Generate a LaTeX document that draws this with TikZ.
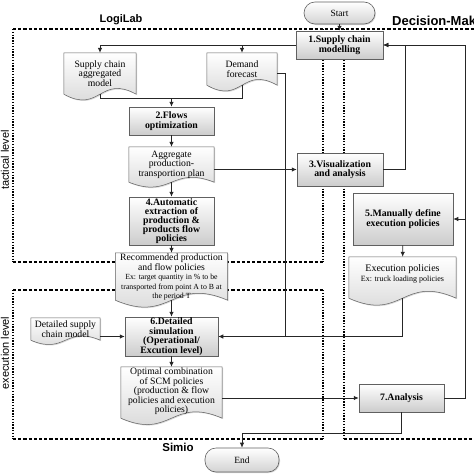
\documentclass[tikz,border=0pt]{standalone}
\usepackage{fontspec}
\setmainfont{Liberation Serif}
\newfontfamily\labfont{Liberation Sans}
\usetikzlibrary{arrows.meta,calc,shadows}
\pgfdeclarelayer{frames}
\pgfdeclarelayer{docs}
\pgfsetlayers{frames,docs,main}
\newcommand\docoutline[2]{\path[docshape] (#1.north west) -- (#1.north east) -- (#1.south east) .. controls ($(#1.south)+(0,-#2)$) and ($(#1.south)+(0,#2)$) .. (#1.south west) -- cycle;}
\newcommand\exfont{\fontsize{7.8}{8.2}\selectfont}
\tikzset{
  boxnode/.style={rectangle, draw=gray!75!black, line width=0.5pt, top color=white, bottom color=gray!40,
    drop shadow={shadow xshift=1.2pt,shadow yshift=-1.2pt,opacity=0.3},
    inner sep=1pt, align=center, font=\fontsize{9.8}{9.6}\selectfont\bfseries},
  termnode/.style={rectangle, rounded corners=11pt, draw=gray!75!black, line width=0.6pt, top color=white, bottom color=gray!35,
    drop shadow={shadow xshift=1pt,shadow yshift=-1pt,opacity=0.3},
    inner sep=1pt, font=\fontsize{9.5}{9.5}\selectfont},
  docnode/.style={rectangle, inner sep=0pt, align=center, font=\fontsize{9.7}{9.5}\selectfont},
  docshape/.style={draw=gray!75!black, line width=0.5pt, top color=white, bottom color=gray!35,
    drop shadow={shadow xshift=1pt,shadow yshift=-1pt,opacity=0.3}},
  link/.style={draw=black!85, line width=0.8pt},
  arr/.style={link, -{Latex[length=5pt,width=4.5pt]}},
  hdash/.style={line width=1.6pt, dash pattern=on 3.2pt off 2pt},
  vdot/.style={line width=1.6pt, dash pattern=on 1.4pt off 1.4pt},
  lab/.style={font=\labfont\bfseries\fontsize{11}{11}\selectfont, inner sep=0pt},
  sidelab/.style={font=\labfont\fontsize{11}{11}\selectfont, inner sep=0pt, rotate=90},
}
\begin{document}
\begin{tikzpicture}[x=1pt,y=-1pt]
\useasboundingbox (0,0) rectangle (474,474);

% labels
\node[lab] (logilab) at (121,20) {LogiLab};
\node[lab, anchor=west, font=\labfont\bfseries\fontsize{13}{13}\selectfont] (dm) at (392,22) {Decision-Making};
\node[lab, font=\labfont\bfseries\fontsize{11.5}{11.5}\selectfont] (simio) at (178,447) {Simio};
\node[sidelab] (tact) at (5,160) {tactical level};
\node[sidelab] (exec) at (5,353) {execution level};

% terminals and boxes
\node[termnode, minimum width=71pt, minimum height=22pt] (start) at (339.5,13) {Start};
\node[termnode, minimum width=74pt, minimum height=24pt] (end) at (242,460) {End};
\node[boxnode, minimum width=87pt, minimum height=28pt] (b1) at (339.5,45) {1.Supply chain\\modelling};
\node[boxnode, minimum width=85pt, minimum height=28pt] (b2) at (171.5,121) {2.Flows\\optimization};
\node[boxnode, minimum width=86pt, minimum height=33pt] (b3) at (340,169.5) {3.Visualization\\and analysis};
\node[boxnode, minimum width=85pt, minimum height=48pt, font=\fontsize{9.8}{9.1}\selectfont\bfseries, inner sep=0pt] (b4) at (171.5,221) {4.Automatic\\extraction of\\production \&\\products flow\\policies};
\node[boxnode, minimum width=100pt, minimum height=52pt] (b5) at (403,219) {5.Manually define\\execution policies};
\node[boxnode, minimum width=93pt, minimum height=39pt, inner sep=0pt] (b6) at (171.5,336.5) {6.Detailed\\simulation\\(Operational/\\Excution level)};
\node[boxnode, minimum width=85pt, minimum height=28pt] (b7) at (401.5,398) {7.Analysis};

% documents
\node[docnode, minimum width=72pt, minimum height=41pt] (sca) at (100,73.5) {Supply chain\\aggregated\\model};
\node[docnode, minimum width=70pt, minimum height=32pt] (df) at (242,69) {Demand\\forecast};
\node[docnode, minimum width=85pt, minimum height=35pt] (agg) at (171.5,164.5) {Aggregate\\production-\\transportion plan};
\node[docnode, minimum width=112pt, minimum height=47pt] (rec) at (171.5,276.5) {};
\node[docnode, anchor=north] (rectext) at ($(rec.north)+(0,1)$) {Recommended production\\and flow policies\\{\exfont Ex: target quantity in \% to be}\\{\exfont transported from point A to B at}\\{\exfont the period T}};
\node[docnode, minimum width=69pt, minimum height=22pt] (dsc) at (65.5,329) {Detailed supply\\chain model};
\node[docnode, minimum width=101pt, minimum height=51pt] (opt) at (171.5,392.5) {};
\node[docnode, anchor=north] (opttext) at ($(opt.north)+(0,1)$) {Optimal combination\\of SCM policies\\(production \& flow\\policies and execution\\policies)};
\node[docnode, minimum width=107pt, minimum height=41pt] (exp) at (402.5,277.5) {};
\node[docnode, anchor=north] (exptext) at ($(exp.north)+(0,8)$) {{\fontsize{10}{10}\selectfont Execution policies}\\{\fontsize{8}{9}\selectfont Ex: truck loading policies}};

\begin{pgfonlayer}{docs}
\docoutline{sca}{20}
\docoutline{df}{20}
\docoutline{agg}{17}
\docoutline{rec}{24}
\docoutline{dsc}{15}
\docoutline{opt}{22}
\docoutline{exp}{24}
\end{pgfonlayer}

% frames
\begin{pgfonlayer}{frames}
\draw[hdash] (13,29) -- (474,29);
\draw[vdot] (13,29) -- (13,262);
\draw[hdash] (13,262) -- (323,262);
\draw[vdot] (323,29) -- (323,262);
\draw[hdash] (13,290) -- (323,290);
\draw[vdot] (13,290) -- (13,439);
\draw[vdot] (323,290) -- (323,439);
\draw[hdash] (13,439) -- (323,439);
\draw[vdot] (344,29) -- (344,439);
\draw[hdash] (344,439) -- (474,439);
\end{pgfonlayer}

% junction coordinates
\coordinate (j1) at (171.5,98);
\coordinate (j2) at (285,336.5);
\coordinate (j3) at (242,433);
\coordinate (rv) at (465,398);
\coordinate (lv) at (405,169.5);
\coordinate (dfo) at (277,73);

% connectors
\draw[arr] (start) -- (b1);
\draw[arr] (b1.west) -| (sca.north);
\draw[arr] (df.north |- b1.west) -- (df.north);
\draw[link] (sca.south) |- (j1);
\draw[arr] (df.south) |- (j1) -- (b2.north);
\draw[arr] (b2) -- (agg);
\draw[arr] (agg.south) -- (b4.north);
\draw[arr] (b3.west -| agg.east) -- (b3.west);
\draw[arr] (b4) -- (rec);
\draw[arr] (rec.south) -- (b6.north);
\draw[arr] (b6) -- (opt);
\draw[arr] (b6.west -| dsc.east) -- (b6.west);
\draw[arr] (exp.south) |- (b6.east);
\draw[link] (dfo) -| (j2);
\draw[arr] (b3.east) -- (lv) |- (b1.east);
\draw[arr] (b7.east) -- (rv) |- (b1.east);
\draw[arr] (b5.east -| rv) -- (b5.east);
\draw[arr] (b5) -- (exp);
\draw[arr] (b7.west -| opt.east) -- (b7.west);
\draw[arr] (b7.south) |- (j3) -- (end.north);
\end{tikzpicture}
\end{document}
